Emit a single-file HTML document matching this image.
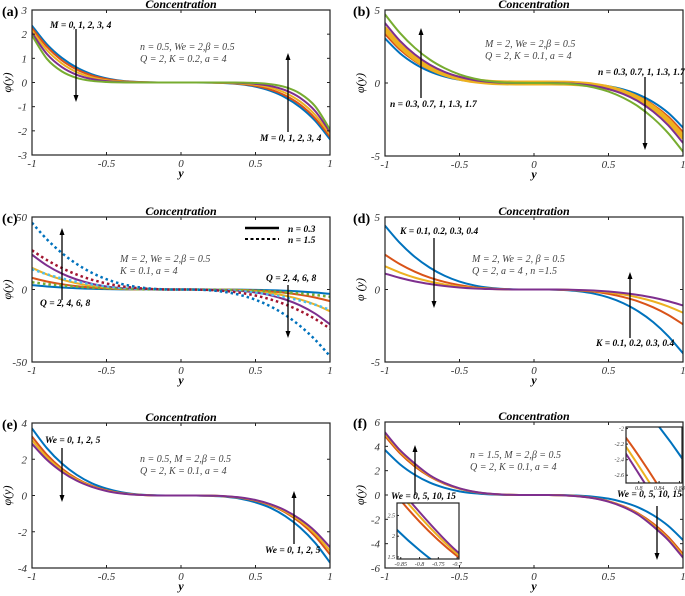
<!DOCTYPE html>
<html><head><meta charset="utf-8"><style>
html,body{margin:0;padding:0;background:#fff;overflow:hidden;width:685px;height:596px;}
svg{display:block;font-family:"Liberation Serif",serif;overflow:hidden;}
</style></head><body>
<svg id="fig" width="685" height="596" viewBox="0 0 685 596" xmlns="http://www.w3.org/2000/svg"></svg>
<script>
// magnitude values of phi at y = 0, 0.1, ..., 1 (phi positive for y<0, negative for y>0)
const yGrid = [0,0.1,0.2,0.3,0.4,0.5,0.6,0.7,0.8,0.9,1];
const a_M0 = [0,0,0.006,0.026,0.075,0.174,0.345,0.618,1.02,1.58,2.35];
const a_M1 = [0,0,0.004,0.018,0.058,0.141,0.292,0.54,0.92,1.48,2.25];
const a_M2 = [0,0,0.002,0.009,0.035,0.095,0.215,0.43,0.79,1.34,2.15];
const a_M3 = [0,0,0,0.004,0.017,0.056,0.144,0.32,0.64,1.18,2.05];
const a_M4 = [0,0,0,0,0.005,0.021,0.07,0.19,0.46,0.98,1.95];
const b_n03 = [0,0,0.007,0.03,0.095,0.22,0.44,0.79,1.31,2.04,3.05];
const b_n07 = [0,0,0.01,0.045,0.12,0.27,0.53,0.93,1.5,2.29,3.35];
const b_n1 = [0,0,0.01,0.055,0.15,0.33,0.62,1.06,1.69,2.56,3.7];
const b_n13 = [0,0,0.02,0.08,0.2,0.42,0.76,1.26,1.96,2.89,4.1];
const b_n17 = [0,0.005,0.038,0.127,0.3,0.59,1.02,1.61,2.41,3.43,4.7];
const c_s2 = [0,0,0.01,0.05,0.12,0.26,0.5,0.86,1.37,2.08,3];
const c_s4 = [0,0,0.03,0.12,0.32,0.7,1.34,2.3,3.66,5.54,8];
const c_s6 = [0,0,0.06,0.23,0.6,1.32,2.5,4.3,6.87,10.4,15];
const c_s8 = [0,0,0.1,0.36,0.96,2.1,4.0,6.9,11,16.6,24];
const c_d2 = [0,0.01,0.07,0.2,0.42,0.77,1.26,1.91,2.74,3.76,5];
const c_d4 = [0,0.03,0.18,0.55,1.18,2.16,3.53,5.35,7.66,10.5,14];
const c_d6 = [0,0.05,0.35,1.05,2.27,4.16,6.8,10.3,14.8,20.3,27];
const c_d8 = [0,0.09,0.6,1.8,3.86,7.08,11.6,17.6,25.2,34.6,46];
const d_K1 = [0,0,0.035,0.12,0.28,0.55,0.95,1.51,2.25,3.21,4.4];
const d_K2 = [0,0,0.02,0.065,0.15,0.3,0.52,0.82,1.23,1.75,2.4];
const d_K3 = [0,0,0.013,0.043,0.1,0.2,0.35,0.55,0.82,1.17,1.6];
const d_K4 = [0,0,0.009,0.03,0.07,0.14,0.24,0.38,0.56,0.8,1.1];
const e_We0 = [0,0,0.02,0.07,0.18,0.38,0.68,1.14,1.77,2.61,3.7];
const e_We1 = [0,0,0.01,0.05,0.13,0.29,0.54,0.93,1.49,2.25,3.25];
const e_We2 = [0,0,0.01,0.05,0.12,0.27,0.51,0.88,1.4,2.11,3.05];
const e_We5 = [0,0,0.01,0.04,0.11,0.25,0.48,0.82,1.31,1.97,2.85];
const f_We0 = [0,0,0.01,0.05,0.14,0.3,0.59,1.02,1.66,2.53,3.7];
const f_We5 = [0,0,0.03,0.1,0.25,0.51,0.92,1.52,2.35,3.44,4.85];
const f_We10 = [0,0,0.03,0.1,0.26,0.53,0.96,1.58,2.48,3.58,5.0];
const f_We15 = [0,0,0.03,0.11,0.27,0.55,0.99,1.63,2.58,3.69,5.15];
const xTicks = [-1,-0.5,0,0.5,1];
const xTickLabels = ['-1','-0.5','0','0.5','1'];
const a_yTicks = [-3,-2,-1,0,1,2,3];
const b_yTicks = [-5,0,5];
const c_yTicks = [-50,0,50];
const d_yTicks = [-5,0,5];
const e_yTicks = [-4,-2,0,2,4];
const f_yTicks = [-6,-4,-2,0,2,4,6];

const NS='http://www.w3.org/2000/svg';
const svg=document.getElementById('fig');
const C={blue:'#0072BD',orange:'#D95319',yellow:'#EDB120',purple:'#7E2F8E',green:'#77AC30',cyan:'#4DBEEE',red:'#A2142F'};
function mk(tag,attrs,parent){const e=document.createElementNS(NS,tag);for(const k in attrs)e.setAttribute(k,attrs[k]);(parent||svg).appendChild(e);return e;}
function txt(s,x,y,attrs,parent){const t=mk('text',Object.assign({x:x,y:y},attrs),parent);t.textContent=s;return t;}
function fullSeries(mag){const pts=[];for(let i=10;i>=1;i--)pts.push([-yGrid[i],mag[i]]);pts.push([0,0]);for(let i=1;i<=10;i++)pts.push([yGrid[i],-mag[i]]);return pts;}
function crPath(p){let d='M'+p[0][0].toFixed(2)+','+p[0][1].toFixed(2);for(let i=0;i<p.length-1;i++){const p0=p[Math.max(i-1,0)],p1=p[i],p2=p[i+1],p3=p[Math.min(i+2,p.length-1)];const c1=[p1[0]+(p2[0]-p0[0])/6,p1[1]+(p2[1]-p0[1])/6];const c2=[p2[0]-(p3[0]-p1[0])/6,p2[1]-(p3[1]-p1[1])/6];d+=' C'+c1[0].toFixed(2)+','+c1[1].toFixed(2)+' '+c2[0].toFixed(2)+','+c2[1].toFixed(2)+' '+p2[0].toFixed(2)+','+p2[1].toFixed(2);}return d;}
let clipId=0;
function arrow(x,y1,y2,name){const g=mk('g',{});mk('line',{x1:x,y1:y1,x2:x,y2:y2+(y2>y1?-5:5),stroke:'#000','stroke-width':1.3},g);const d=y2>y1?1:-1;mk('polygon',{points:`${x},${y2} ${x-2.5},${y2-7*d} ${x+2.5},${y2-7*d}`,fill:'#000'},g);}
function panel(cfg){
  const g=mk('g',{});
  const {L,R,T,B,ymin,ymax}=cfg;
  const sx=v=>L+(v+1)/2*(R-L), sy=v=>B-(v-ymin)/(ymax-ymin)*(B-T);
  const cid='clip'+(clipId++);
  const cp=mk('clipPath',{id:cid},g);mk('rect',{x:L,y:T,width:R-L,height:B-T},cp);
  const sg=mk('g',{'clip-path':`url(#${cid})`},g);
  cfg.series.forEach(s=>{const pts=fullSeries(s.v).map(p=>[sx(p[0]),sy(p[1])]);const p=mk('path',{d:crPath(pts),fill:'none',stroke:s.c,'stroke-width':s.w||2,'stroke-dasharray':s.dash||'none','stroke-linecap':s.dash?'butt':'round'},sg);});
  const box=mk('rect',{x:L,y:T,width:R-L,height:B-T,fill:'none',stroke:'#222','stroke-width':1.2},g);
  xTicks.forEach((t,i)=>{const x=sx(t);mk('line',{x1:x,y1:B,x2:x,y2:B-3,stroke:'#222'},g);mk('line',{x1:x,y1:T,x2:x,y2:T+3,stroke:'#222'},g);const l=txt(xTickLabels[i],x,B+12,{'font-size':11,'font-style':'italic','text-anchor':'middle',fill:'#333'},g);});
  cfg.yticks.forEach(t=>{const y=sy(t);mk('line',{x1:L,y1:y,x2:L+3,y2:y,stroke:'#222'},g);mk('line',{x1:R,y1:y,x2:R-3,y2:y,stroke:'#222'},g);const l=txt(String(t),L-5,y+4,{'font-size':11,'font-style':'italic','text-anchor':'end',fill:'#333'},g);});
  const xl=txt('y',(L+R)/2,B+22,{'font-size':12,'font-style':'italic','font-weight':'bold','text-anchor':'middle'},g);
  const yl=txt(cfg.ylab,0,0,{'font-size':12,'font-style':'italic','text-anchor':'middle',transform:`translate(${L-21},${(T+B)/2}) rotate(-90)`},g);
  const ti=txt('Concentration',(L+R)/2,T-2,{'font-size':12,'font-style':'italic','font-weight':'bold','text-anchor':'middle'},g);
  const pl=txt('('+cfg.id+')',cfg.lx,T+6,{'font-size':14,'font-weight':'bold'},g);
  const pr=txt(cfg.p1,cfg.px,cfg.py,{'font-size':10,'font-style':'italic',fill:'#444'},g);
  const pr2=txt(cfg.p2,cfg.px,cfg.py+12,{'font-size':10,'font-style':'italic',fill:'#444'},g);
  cfg.notes.forEach(n=>{const t=txt(n[0],n[1],n[2],{'font-size':9.5,'font-style':'italic','font-weight':'bold'},g);});
  cfg.arrows.forEach(a=>arrow(a[0],a[1],a[2],'trend-arrow'));
  return {sx,sy};
}
panel({id:'a',L:32,R:330,T:10,B:155,ymin:-3,ymax:3,yticks:a_yTicks,ylab:'φ(y)',lx:2,px:140,py:50,
 p1:'n = 0.5, We = 2,β = 0.5',p2:'Q = 2, K = 0.2, a = 4',
 notes:[['M = 0, 1, 2, 3, 4',50,28],['M = 0, 1, 2, 3, 4',260,141]],arrows:[[76,29,102],[288,132,53]],
 series:[{name:'series-m0',c:C.blue,v:a_M0},{name:'series-m1',c:C.orange,v:a_M1},{name:'series-m2',c:C.yellow,v:a_M2},{name:'series-m3',c:C.purple,v:a_M3},{name:'series-m4',c:C.green,v:a_M4}]});
panel({id:'b',L:385,R:683,T:10,B:156,ymin:-5,ymax:5,yticks:b_yTicks,ylab:'φ(y)',lx:353,px:485,py:47,
 p1:'M = 2, We = 2,β = 0.5',p2:'Q = 2, K = 0.1, a = 4',
 notes:[['n = 0.3, 0.7, 1, 1.3, 1.7',390,107],['n = 0.3, 0.7, 1, 1.3, 1.7',598,75]],arrows:[[421,98,28],[645,77,150]],
 series:[{name:'series-n03',c:C.blue,v:b_n03},{name:'series-n07',c:C.orange,v:b_n07},{name:'series-n1',c:C.yellow,v:b_n1,w:5},{name:'series-n13',c:C.purple,v:b_n13},{name:'series-n17',c:C.green,v:b_n17}]});
panel({id:'c',L:32,R:330,T:217,B:362,ymin:-50,ymax:50,yticks:c_yTicks,ylab:'φ(y)',lx:2,px:120,py:262,
 p1:'M = 2, We = 2,β = 0.5',p2:' K = 0.1, a = 4',
 notes:[['Q = 2, 4, 6, 8',40,306],['Q = 2, 4, 6, 8',266,281]],arrows:[[62,300,228],[288,285,338]],
 series:[{name:'series-q2-n03',c:C.blue,v:c_s2},{name:'series-q4-n03',c:C.orange,v:c_s4},{name:'series-q6-n03',c:C.yellow,v:c_s6},{name:'series-q8-n03',c:C.purple,v:c_s8},
 {name:'series-q2-n15',c:C.green,v:c_d2,w:2.5,dash:'2.5,3'},{name:'series-q4-n15',c:C.cyan,v:c_d4,w:2.5,dash:'2.5,3'},{name:'series-q6-n15',c:C.red,v:c_d6,w:2.5,dash:'2.5,3'},{name:'series-q8-n15',c:C.blue,v:c_d8,w:2.5,dash:'2.5,3'}]});
(function(){const g=mk('g',{});
 mk('line',{x1:245,y1:228,x2:279,y2:228,stroke:'#000','stroke-width':2.5},g);
 let t=txt('n = 0.3',288,232,{'font-size':9.5,'font-style':'italic','font-weight':'bold'},g);
 mk('line',{x1:245,y1:239,x2:279,y2:239,stroke:'#000','stroke-width':2,'stroke-dasharray':'3,2.5'},g);
 t=txt('n = 1.5',288,243,{'font-size':9.5,'font-style':'italic','font-weight':'bold'},g);})();
panel({id:'d',L:385,R:683,T:217,B:362,ymin:-5,ymax:5,yticks:d_yTicks,ylab:'φ (y)',lx:353,px:472,py:262,
 p1:'M = 2, We = 2, β = 0.5',p2:' Q = 2, a = 4 , n =1.5',
 notes:[['K = 0.1, 0.2, 0.3, 0.4',400,234],['K = 0.1, 0.2, 0.3, 0.4',596,346]],arrows:[[434,238,308],[630,338,272]],
 series:[{name:'series-k01',c:C.blue,v:d_K1},{name:'series-k02',c:C.orange,v:d_K2},{name:'series-k03',c:C.yellow,v:d_K3},{name:'series-k04',c:C.purple,v:d_K4}]});
panel({id:'e',L:32,R:330,T:423,B:568,ymin:-4,ymax:4,yticks:e_yTicks,ylab:'φ(y)',lx:2,px:140,py:462,
 p1:'n = 0.5, M = 2,β = 0.5',p2:'Q = 2, K = 0.1, a = 4',
 notes:[['We = 0, 1, 2, 5',45,443],['We = 0, 1, 2, 5',265,553]],arrows:[[62,448,502],[294,544,491]],
 series:[{name:'series-we0',c:C.blue,v:e_We0},{name:'series-we1',c:C.orange,v:e_We1},{name:'series-we2',c:C.yellow,v:e_We2},{name:'series-we5',c:C.purple,v:e_We5}]});
const fser=[{name:'series-we0',c:C.blue,v:f_We0},{name:'series-we5',c:C.orange,v:f_We5},{name:'series-we10',c:C.yellow,v:f_We10},{name:'series-we15',c:C.purple,v:f_We15}];
panel({id:'f',L:385,R:683,T:422,B:568,ymin:-6,ymax:6,yticks:f_yTicks,ylab:'φ(y)',lx:353,px:470,py:458,
 p1:'n = 1.5, M = 2,β = 0.5',p2:'Q = 2, K = 0.1, a = 4',
 notes:[['We = 0, 5, 10, 15',391,499],['We = 0, 5, 10, 15',617,497]],arrows:[[415,495,445],[657,506,560]],
 series:fser});
function inset(name,L,R,T,B,x0,x1,y0,y1,xt,xtl,yt){
 const g=mk('g',{});
 mk('rect',{x:L,y:T,width:R-L,height:B-T,fill:'#fff'},g);
 const sx=v=>L+(v-x0)/(x1-x0)*(R-L), sy=v=>B-(v-y0)/(y1-y0)*(B-T);
 const cid='clip'+(clipId++);const cp=mk('clipPath',{id:cid},g);mk('rect',{x:L,y:T,width:R-L,height:B-T},cp);
 const sg=mk('g',{'clip-path':`url(#${cid})`},g);
 fser.forEach(s=>{const pts=fullSeries(s.v).map(p=>[sx(p[0]),sy(p[1])]);const p=mk('path',{d:crPath(pts),fill:'none',stroke:s.c,'stroke-width':2},sg);});
 mk('rect',{x:L,y:T,width:R-L,height:B-T,fill:'none',stroke:'#222','stroke-width':1.2},g);
 xt.forEach((t,i)=>{const x=sx(t);mk('line',{x1:x,y1:B,x2:x,y2:B-2,stroke:'#222'},g);txt(xtl[i],x,B+7,{'font-size':6,'font-style':'italic','text-anchor':'middle',fill:'#333'},g);});
 yt.forEach(t=>{const y=sy(t);mk('line',{x1:L,y1:y,x2:L+2,y2:y,stroke:'#222'},g);txt(String(t),L-2,y+2,{'font-size':6,'font-style':'italic','text-anchor':'end',fill:'#333'},g);});
}
inset('inset-left',397,459,503,559,-0.86,-0.695,1.45,2.8,[-0.85,-0.8,-0.75,-0.7],['-0.85','-0.8','-0.75','-0.7'],[1.5,2,2.5]);
inset('inset-right',626,682,427,483,0.775,0.885,-2.7,-1.98,[0.8,0.84,0.88],['0.8','0.84','0.88'],[-2,-2.2,-2.4,-2.6]);
</script>
</body></html>
